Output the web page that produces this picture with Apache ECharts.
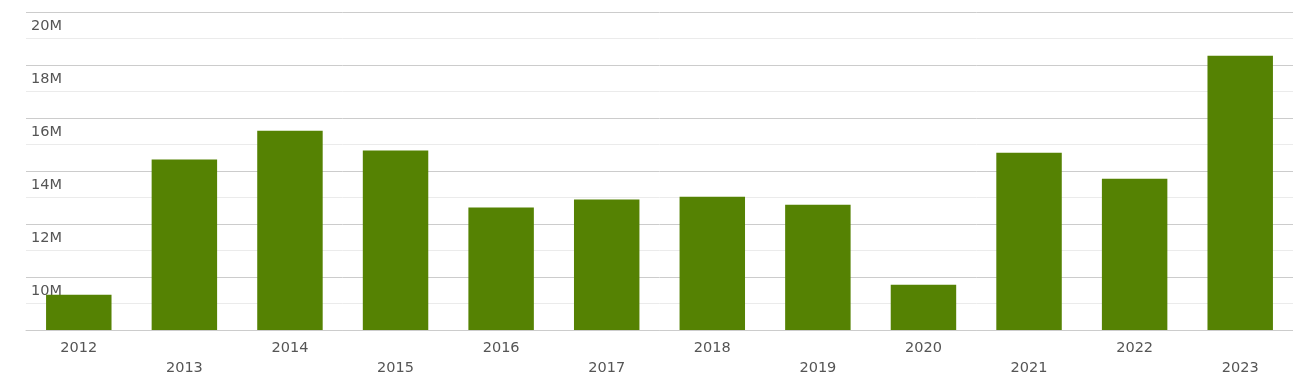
<!DOCTYPE html>
<html>
<head>
<meta charset="utf-8">
<script src="https://cdn.jsdelivr.net/npm/echarts@6/dist/echarts.min.js"></script>
<style>html,body{margin:0;padding:0;background:#fff}#c{width:1293px;height:384px}</style>
</head>
<body>
<div id="c"></div>
<script>
const categories = ['2012','2013','2014','2015','2016','2017','2018','2019','2020','2021','2022','2023'];
const values = [9.33e6, 14.43e6, 15.52e6, 14.77e6, 12.62e6, 12.92e6, 13.03e6, 12.73e6, 9.71e6, 14.69e6, 13.71e6, 18.35e6];
const yMin = 8e6, yMax = 20e6, yStep = 2e6;

const chart = echarts.init(document.getElementById('c'), null, {renderer: 'canvas'});
chart.setOption({
  animation: false,
  grid: {left: 26, right: 0, top: 12, bottom: 54, containLabel: false},
  xAxis: {
    type: 'category',
    data: categories,
    axisLine: {show: true, lineStyle: {color: '#cccccc', width: 1}},
    axisTick: {show: false},
    axisLabel: {
      interval: 0,
      margin: 8,
      color: '#555555',
      fontFamily: 'DejaVu Sans',
      fontSize: 14.5,
      lineHeight: 20,
      formatter: (v, i) => (i % 2 ? '\n' + v : v)
    }
  },
  yAxis: {
    type: 'value',
    min: yMin, max: yMax, interval: yStep,
    axisLine: {show: false},
    axisTick: {show: false},
    splitLine: {show: true, lineStyle: {color: '#cccccc', width: 1}},
    minorTick: {show: false, splitNumber: 2},
    minorSplitLine: {show: true, lineStyle: {color: '#ebebeb', width: 1}},
    axisLabel: {
      inside: true,
      margin: 5,
      verticalAlign: 'top',
      padding: [6, 0, 0, 0],
      color: '#555555',
      fontFamily: 'DejaVu Sans',
      fontSize: 14.5,
      lineHeight: 16,
      formatter: v => (v === yMin ? '' : (v / 1e6) + 'M')
    }
  },
  series: [{
    type: 'bar',
    data: values,
    barWidth: '62%',
    itemStyle: {color: '#558203'},
    z: 1
  }]
});
</script>
</body>
</html>
